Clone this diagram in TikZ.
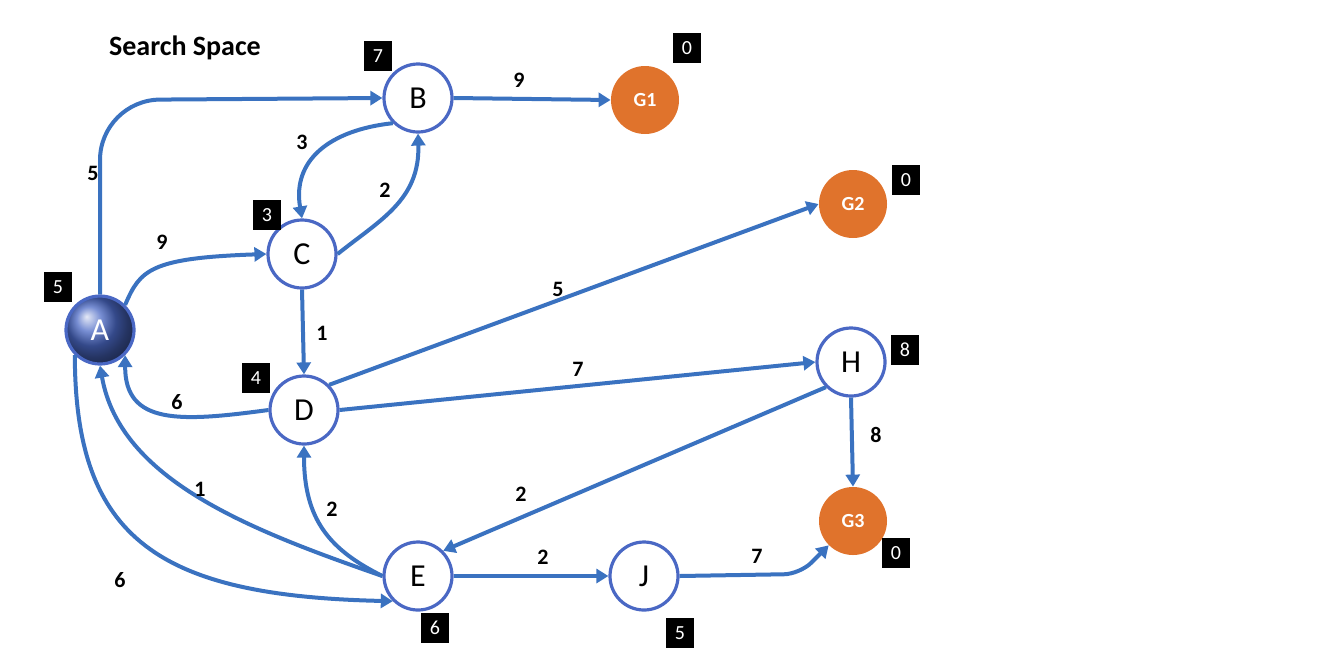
\documentclass[tikz,border=0pt]{standalone}
\usepackage{fontspec}
\setmainfont{Carlito}
\usetikzlibrary{arrows.meta}
\definecolor{eb}{HTML}{3A72C0}
\definecolor{nb}{HTML}{4A68C4}
\definecolor{og}{HTML}{E0732C}
\begin{document}
\begin{tikzpicture}[x=0.5pt,y=-0.5pt,
 st/.style={circle,draw=nb,line width=1.6pt,fill=white,minimum size=34pt,inner sep=0pt,font=\fontsize{16}{16}\selectfont},
 goal/.style={circle,fill=og,minimum size=34pt,inner sep=0pt,text=white,font=\bfseries\fontsize{10}{10}\selectfont},
 hb/.style={fill=black,text=white,minimum width=14pt,minimum height=15pt,inner sep=0pt,font=\fontsize{10}{10}\selectfont},
 e/.style={draw=eb,line width=2pt,-{Triangle[length=6pt,width=7pt]},rounded corners=20pt},
 lb/.style={font=\bfseries\fontsize{11}{11}\selectfont}]
\useasboundingbox (0,0) rectangle (1326,654);
\node[font=\bfseries\fontsize{14}{14}\selectfont] (title) at (185,48) {Search Space};
\node[st,ball color=nb,draw=nb,text=white] (A) at (100,330) {A};
\node[st] (B) at (418,98) {B};
\node[st] (C) at (302,254) {C};
\node[st] (D) at (304,410) {D};
\node[st] (E) at (418,576) {E};
\node[st] (J) at (644,576) {J};
\node[st] (H) at (851,362) {H};
\node[goal] (G1) at (645,100) {G1};
\node[goal] (G2) at (853,204) {G2};
\node[goal] (G3) at (853,521) {G3};
\node[hb] (hB) at (378,56) {7};
\node[hb] (hG1) at (687,48) {0};
\node[hb] (hG2) at (906,180) {0};
\node[hb] (hC) at (267,215) {3};
\node[hb] (hA) at (58,287) {5};
\node[hb] (hD) at (256,378) {4};
\node[hb] (hH) at (905,350) {8};
\node[hb] (hG3) at (896,553) {0};
\node[hb] (hE) at (435,628) {6};
\node[hb] (hJ) at (680,633) {5};
\draw[e,rounded corners=30pt] (A.north) -- (100,100) -- (B.west);
\draw[e] (A.north east) .. controls (140,270) and (150,258) .. (C.west);
\draw[e] (B.south west) .. controls (330,130) and (292,160) .. (C.north);
\draw[e] (C.east) .. controls (380,220) and (420,200) .. (B.south);
\draw[e] (C.south) -- (D.north);
\draw[e] (D.west) .. controls (180,422) and (125,425) .. (A.south east);
\draw[e] (D.north east) -- (G2.west);
\draw[e] (D.east) -- (H.west);
\draw[e] (H.south) -- (G3.north);
\draw[e] (H.south west) -- (E.north east);
\draw[e] (E.west) .. controls (330,550) and (304,520) .. (D.south);
\draw[e] (E.west) .. controls (250,530) and (120,480) .. (A.south);
\draw[e] (A.south west) .. controls (75,540) and (160,596) .. (E.south west);
\draw[e] (E.east) -- (J.west);
\draw[e,rounded corners=8pt] (J.east) -- (800,574) -- (G3.south west);
\draw[e] (B.east) -- (G1.west);
\node[lb] at (93,173) {5};
\node[lb] at (162,242) {9};
\node[lb] at (302,142) {3};
\node[lb] at (385,190) {2};
\node[lb] at (322,333) {1};
\node[lb] at (177,402) {6};
\node[lb] at (558,289) {5};
\node[lb] at (578,369) {7};
\node[lb] at (876,435) {8};
\node[lb] at (521,494) {2};
\node[lb] at (332,509) {2};
\node[lb] at (200,489) {1};
\node[lb] at (120,580) {6};
\node[lb] at (543,557) {2};
\node[lb] at (757,556) {7};
\node[lb] at (519,80) {9};
\end{tikzpicture}
\end{document}
